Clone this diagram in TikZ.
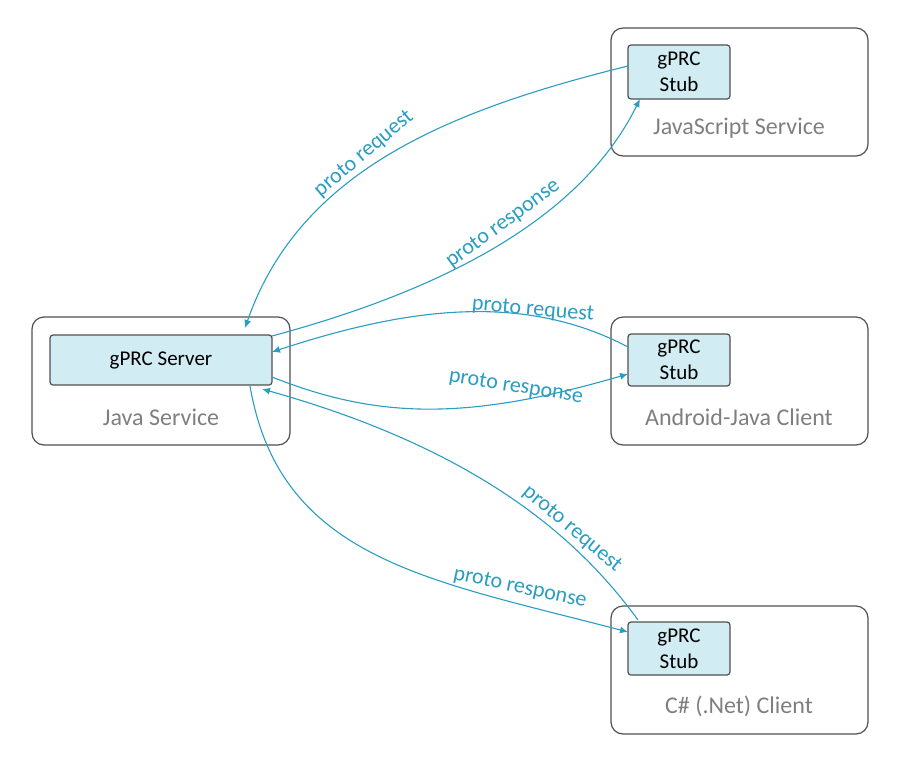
\documentclass[tikz,border=0pt]{standalone}
\usepackage{fontspec}
\setmainfont{Carlito}
\usetikzlibrary{arrows.meta}
\definecolor{arr}{HTML}{2A9DC0}
\definecolor{stubfill}{HTML}{D2ECF4}
\definecolor{edge}{HTML}{505050}
\definecolor{lbl}{HTML}{7F7F7F}
\begin{document}
\begin{tikzpicture}[x=1pt,y=-1pt,
    outer/.style={draw=edge, line width=1.2pt, rounded corners=12pt},
    inner/.style={draw=edge, line width=1.2pt, fill=stubfill, rounded corners=3pt},
    flow/.style={draw=arr, line width=1.1pt, -{Latex[length=8pt,width=7pt]}},
    flab/.style={text=arr, font=\fontsize{22}{22}\selectfont, inner sep=1pt},
    svc/.style={text=lbl, font=\fontsize{24}{24}\selectfont},
    box/.style={font=\fontsize{21}{26}\selectfont, align=center, inner sep=1pt}]
  \useasboundingbox (0,0) rectangle (903,761);
  % service boxes
  \draw[outer] (32,317) rectangle (290,445);
  \draw[inner] (50,335) rectangle (272,385);
  \node[box] (srv) at (161,360) {gPRC Server};
  \node[svc] at (161,417) {Java Service};

  \draw[outer] (611,28) rectangle (868,156);
  \draw[inner] (628,45) rectangle (730,99);
  \node[box] (js) at (679,72) {gPRC\\Stub};
  \node[svc] at (739,128) {JavaScript Service};

  \draw[outer] (611,317) rectangle (868,445);
  \draw[inner] (628,334) rectangle (730,386);
  \node[box] (an) at (679,360) {gPRC\\Stub};
  \node[svc] at (739,417) {Android-Java Client};

  \draw[outer] (611,606) rectangle (868,734);
  \draw[inner] (628,622) rectangle (730,675);
  \node[box] (cs) at (679,649) {gPRC\\Stub};
  \node[svc] at (739,706) {C\# (.Net) Client};

  \coordinate (jsL) at (628,66);
  \coordinate (jsB) at (640,99);
  \coordinate (srvT) at (245,328);
  \coordinate (srvR1) at (272,336);
  \coordinate (srvR2) at (272,352);
  \coordinate (srvR3) at (272,377);
  \coordinate (srvB1) at (262,389);
  \coordinate (srvB2) at (250,386);
  \coordinate (anL1) at (628,347);
  \coordinate (anL2) at (628,374);
  \coordinate (csT) at (638,620);
  \coordinate (csL) at (628,632);

  % connectors
  \draw[flow] (jsL) .. controls (450,110) and (300,170) .. (srvT);
  \node[flab, rotate=40] at (364,154) {proto request};
  \draw[flow] (srvR1) .. controls (480,280) and (590,200) .. (jsB);
  \node[flab, rotate=36] at (503,224) {proto response};
  \draw[flow] (anL1) .. controls (520,290) and (400,310) .. (srvR2);
  \node[flab, rotate=-5] at (533,310) {proto request};
  \draw[flow] (srvR3) .. controls (380,420) and (470,420) .. (anL2);
  \node[flab, rotate=-9] at (516,387) {proto response};
  \draw[flow] (csT) .. controls (580,540) and (480,450) .. (srvB1);
  \node[flab, rotate=-40] at (572,529) {proto request};
  \draw[flow] (srvB2) .. controls (280,560) and (430,580) .. (csL);
  \node[flab, rotate=-12] at (520,588) {proto response};
\end{tikzpicture}
\end{document}
